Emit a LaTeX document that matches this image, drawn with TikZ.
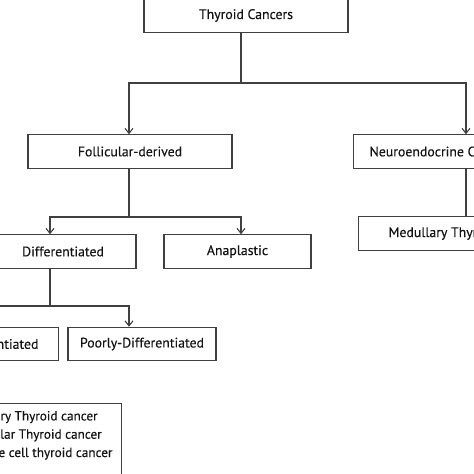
\documentclass[tikz,border=0pt]{standalone}
\usepackage{fontspec}
\setmainfont[FakeBold=0.3]{PT Sans}
\usetikzlibrary{arrows.meta,positioning}

\begin{document}
\begin{tikzpicture}[x=1pt, y=-1pt,
  box/.style={draw=black!75, line width=1.1pt, minimum height=33.5pt,
    inner xsep=0pt, font=\fontsize{13.8}{18.3}\selectfont, text=black!92},
  link/.style={draw=black!75, line width=1.1pt},
  arrow/.style={link, -{Straight Barb[length=5pt,width=8pt]}}
]
\path[use as bounding box, clip] (0,0) rectangle (474,474);

\node[box, minimum width=204pt] (thyroid) at (246,15.5) {Thyroid Cancers};

\node[box, minimum width=204pt] (follicular) at (130,151.5) {Follicular-derived};
\node[box, anchor=west, inner xsep=16pt] (neuro) at (353,151.5) {Neuroendocrine Cancers};

\node[box, minimum width=146pt] (differentiated) at (63,251.5) {Differentiated};
\node[box, minimum width=147pt] (anaplastic) at (237.5,251.5) {Anaplastic};
\node[box, anchor=west, inner xsep=30pt] (medullary) at (358,233.5) {Medullary Thyroid Cancer};

\node[box, anchor=east, inner xsep=20pt] (welldiff) at (59,344) {Well-Differentiated};
\node[box, minimum width=148pt] (poorlydiff) at (142,344) {Poorly-Differentiated};

% list of differentiated types
\node[box, anchor=north east, align=left, inner xsep=9pt, inner ysep=7.5pt,
  font=\fontsize{13.2}{18.3}\selectfont, text depth=60pt] (dtclist) at (122,403)
  {Papillary Thyroid cancer\\Follicular Thyroid cancer\\Hurthle cell thyroid cancer};

\coordinate (split1) at (241,83);
\coordinate (split2) at (129,217);
\coordinate (split3) at (50,306);
\coordinate (colR) at (466,0);

\draw[link] (split1 |- thyroid.south) -- (split1);
\draw[arrow] (split1) -| (split2 |- follicular.north);
\draw[arrow] (split1) -| (colR |- neuro.north);

\draw[link] (split2 |- follicular.south) -- (split2);
\draw[arrow] (split2) -| (split3 |- differentiated.north);
\draw[arrow] (split2) -| (split1 |- anaplastic.north);

\draw[link] (colR |- neuro.south) -- (colR |- medullary.north);

\draw[link] (split3 |- differentiated.south) -- (split3);
\draw[arrow] (split3) -| (welldiff.north);
\draw[arrow] (split3) -| (split2 |- poorlydiff.north);

\end{tikzpicture}
\end{document}
